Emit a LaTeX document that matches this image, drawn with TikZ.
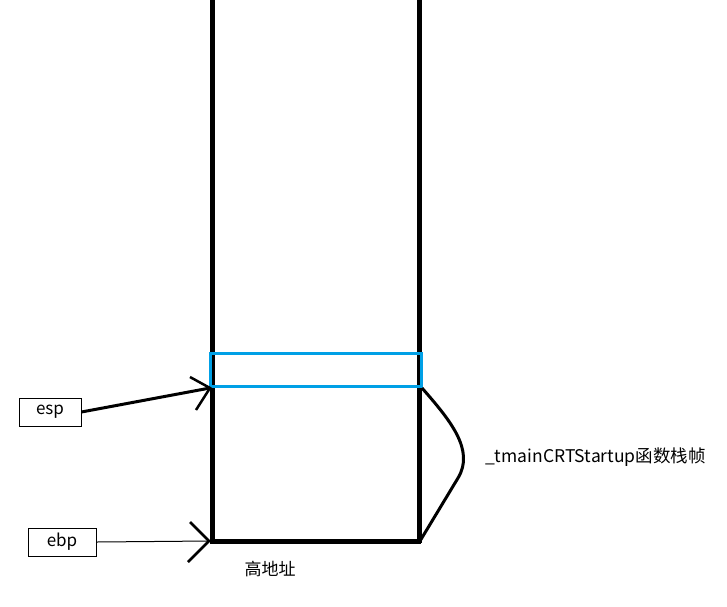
\documentclass[tikz,border=0pt]{standalone}
\usepackage{fontspec}
\setmainfont{Noto Sans CJK SC}
\begin{document}
\begin{tikzpicture}[x=1pt,y=-1pt,
  wall/.style={line width=5pt},
  lbl/.style={draw,line width=0.8pt,minimum width=62pt,minimum height=28pt,inner sep=0pt,font=\fontsize{17}{20}\selectfont},
  barb/.style={line width=2.5pt}]
\useasboundingbox (0,0) rectangle (727,606);
\coordinate (tl) at (212,0); \coordinate (tr) at (419,0);
\draw[wall] (tl) -- (212,543);
\draw[wall] (tr) -- (419,543);
\draw[wall] (210,541) -- (421,541);
\definecolor{stackblue}{RGB}{0,160,230}
\node[draw=stackblue,line width=3pt,minimum width=211pt,minimum height=33pt,inner sep=0pt] (top) at (316,370) {};
\node[lbl] (esp) at (50,412) {esp};
\node[lbl,minimum width=68pt] (ebp) at (62,542) {ebp};
\coordinate (espT) at (210,388);
\draw[line width=3pt] (esp.east) -- (espT);
\draw[barb] (190,377) -- (espT) -- (196,410);
\coordinate (ebpT) at (209,541);
\draw[line width=1pt] (ebp.east) -- (ebpT);
\draw[barb] (190,522) -- (ebpT) -- (188,562);
\draw[line width=3pt] (422,388) .. controls (450,420) and (475,450) .. (458,478) -- (420,541);
\node[anchor=west,inner sep=0pt,font=\fontsize{17.5}{20}\selectfont] (fr) at (485,457) {\_tmainCRTStartup函数栈帧};
\node[inner sep=0pt,font=\fontsize{17}{20}\selectfont] (hi) at (270,569) {高地址};
\end{tikzpicture}
\end{document}
